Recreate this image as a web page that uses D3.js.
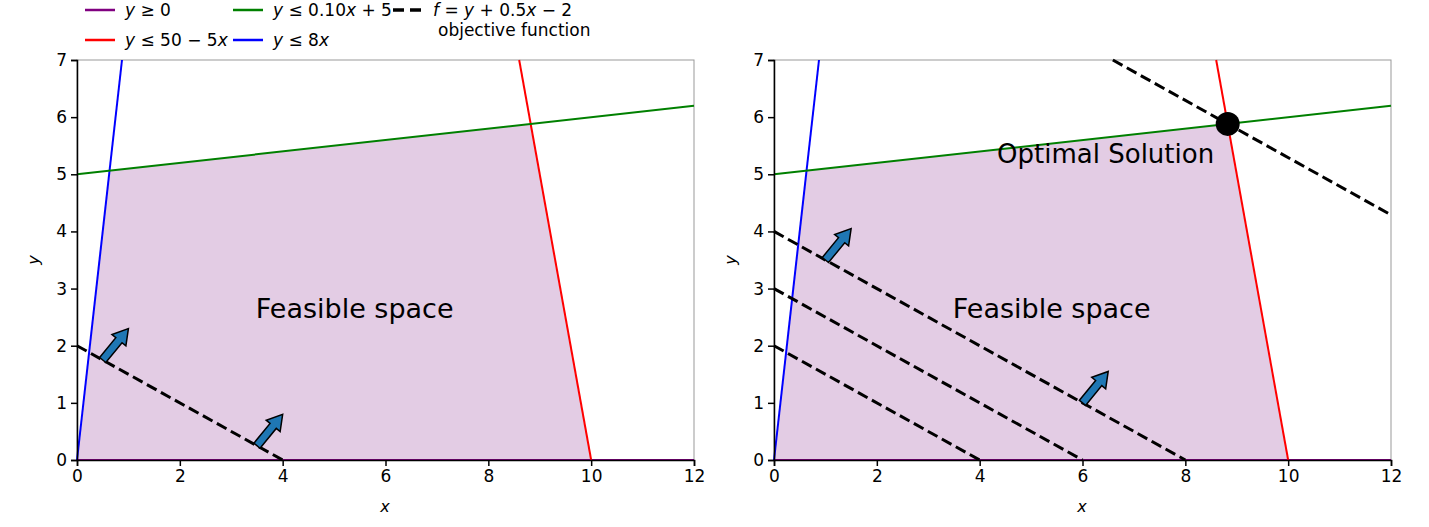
<!DOCTYPE html>
<html><head><meta charset="utf-8">
<script src="https://cdn.jsdelivr.net/npm/d3@7"></script>
<style>body{margin:0;background:#fff}text{font-family:"DejaVu Sans",sans-serif}</style>
</head><body><svg id="c" width="1429" height="527"></svg>
<script>
// constraint lines
var xDomain = [0, 12], yDomain = [0, 7];
var xTicks = [0, 2, 4, 6, 8, 10, 12];
var yTicks = [0, 1, 2, 3, 4, 5, 6, 7];
var feasible = [[0, 0], [0.633, 5.063], [8.824, 5.882], [10, 0]];
var blueLine = [[0, 0], [0.875, 7]];
var redLine = [[8.6, 7], [10, 0]];
var greenLine = [[0, 5], [12, 6.2]];
var purpleLine = [[0, 0], [12, 0]];
var leftObjective = [[[0, 2], [4, 0]]];
var rightObjective = [[[0, 2], [4, 0]], [[0, 3], [6, 0]], [[0, 4], [8, 0]], [[6.59, 7], [12, 4.29]]];
var leftArrows = [[0.5, 1.75, 1.0, 2.3], [3.5, 0.25, 4.0, 0.8]];
var rightArrows = [[1.0, 3.5, 1.5, 4.05], [6.0, 1.0, 6.5, 1.55]];
var optimum = [8.824, 5.882];

var svg = d3.select("#c");

function panel(x0, objectives, arrows, showOpt) {
  var x = d3.scaleLinear().domain(xDomain).range([x0, x0 + 617]);
  var y = d3.scaleLinear().domain(yDomain).range([460, 60]);
  var g = svg.append("g");
  var line = d3.line().x(d => x(d[0])).y(d => y(d[1]));
  g.append("path").attr("d", line(feasible) + "Z").attr("fill", "#e3cce4");
  g.append("rect").attr("x", x0).attr("y", 60).attr("width", 617).attr("height", 400)
    .attr("fill", "none").attr("stroke", "#999");
  g.append("path").attr("d", line(purpleLine)).attr("stroke", "purple").attr("stroke-width", 2);
  g.append("path").attr("d", line(blueLine)).attr("stroke", "blue").attr("stroke-width", 2);
  g.append("path").attr("d", line(redLine)).attr("stroke", "red").attr("stroke-width", 2);
  g.append("path").attr("d", line(greenLine)).attr("stroke", "green").attr("stroke-width", 2);
  objectives.forEach(o => g.append("path").attr("d", line(o)).attr("stroke", "#000")
    .attr("stroke-width", 3).attr("stroke-dasharray", "11,5").attr("fill", "none"));
  arrows.forEach(a => {
    var x1 = x(a[0]), y1 = y(a[1]), x2 = x(a[2]), y2 = y(a[3]);
    var ang = Math.atan2(y2 - y1, x2 - x1), L = Math.hypot(x2 - x1, y2 - y1);
    var w = 4, hw = 9, hl = 15;
    var pts = [[0, -w], [L - hl, -w], [L - hl, -hw], [L, 0], [L - hl, hw], [L - hl, w], [0, w]];
    g.append("polygon").attr("points", pts.map(p => p.join(",")).join(" "))
      .attr("transform", "translate(" + x1 + "," + y1 + ") rotate(" + ang * 180 / Math.PI + ")")
      .attr("fill", "#1f77b4").attr("stroke", "#000").attr("stroke-width", 1.5);
  });
  var xa = g.append("g").attr("transform", "translate(0,460)")
    .call(d3.axisBottom(x).tickValues(xTicks).tickFormat(d3.format("d")).tickSize(6).tickPadding(4));
  var ya = g.append("g").attr("transform", "translate(" + x0 + ",0)")
    .call(d3.axisLeft(y).tickValues(yTicks).tickFormat(d3.format("d")).tickSize(6).tickPadding(4));
  [xa, ya].forEach(a => {
    a.attr("font-size", 17).attr("font-family", "DejaVu Sans");
    a.selectAll("text").attr("fill", "#000");
    a.selectAll("line,path").attr("stroke", "#000").attr("stroke-width", 1.5);
  });
  g.append("text").attr("x", x0 + 308).attr("y", 512).attr("text-anchor", "middle")
    .attr("font-size", 16).attr("font-style", "italic").text("x");
  g.append("text").attr("transform", "translate(" + (x0 - 38) + ",260) rotate(-90)")
    .attr("text-anchor", "middle").attr("font-size", 16).attr("font-style", "italic").text("y");
  g.append("text").attr("x", x(5.4)).attr("y", y(2.65)).attr("dy", "0.35em").attr("text-anchor", "middle")
    .attr("font-size", 27).text("Feasible space");
  if (showOpt) {
    g.append("text").attr("x", x(6.45)).attr("y", y(5.35)).attr("dy", "0.35em").attr("text-anchor", "middle")
      .attr("font-size", 26).text("Optimal Solution");
    g.append("circle").attr("cx", x(optimum[0])).attr("cy", y(optimum[1])).attr("r", 12).attr("fill", "#000");
  }
}
panel(77, leftObjective, leftArrows, false);
panel(774, rightObjective, rightArrows, true);

// legend
var leg = svg.append("g").attr("font-size", 17);
var items = [
  {x: 85, y: 10, c: "purple", t: ["y", " ≥ 0"]},
  {x: 85, y: 40, c: "red", t: ["y", " ≤ 50 − 5", "x"]},
  {x: 233, y: 10, c: "green", t: ["y", " ≤ 0.10", "x", " + 5"]},
  {x: 233, y: 40, c: "blue", t: ["y", " ≤ 8", "x"]}
];
items.forEach(it => {
  leg.append("line").attr("x1", it.x).attr("x2", it.x + 30).attr("y1", it.y).attr("y2", it.y)
    .attr("stroke", it.c).attr("stroke-width", 2.5);
  var t = leg.append("text").attr("x", it.x + 40).attr("y", it.y).attr("dy", "0.35em");
  it.t.forEach(s => t.append("tspan").attr("font-style", (s === "y" || s === "x") ? "italic" : null).text(s));
});
leg.append("line").attr("x1", 393).attr("x2", 421).attr("y1", 10).attr("y2", 10)
  .attr("stroke", "#000").attr("stroke-width", 3.5).attr("stroke-dasharray", "11,6");
var ft = leg.append("text").attr("x", 433).attr("y", 10).attr("dy", "0.35em");
[["f", 1], [" = ", 0], ["y", 1], [" + 0.5", 0], ["x", 1], [" − 2", 0]].forEach(p =>
  ft.append("tspan").attr("font-style", p[1] ? "italic" : null).text(p[0]));
leg.append("text").attr("x", 438).attr("y", 30).attr("dy", "0.35em").text("objective function");
</script></body></html>
